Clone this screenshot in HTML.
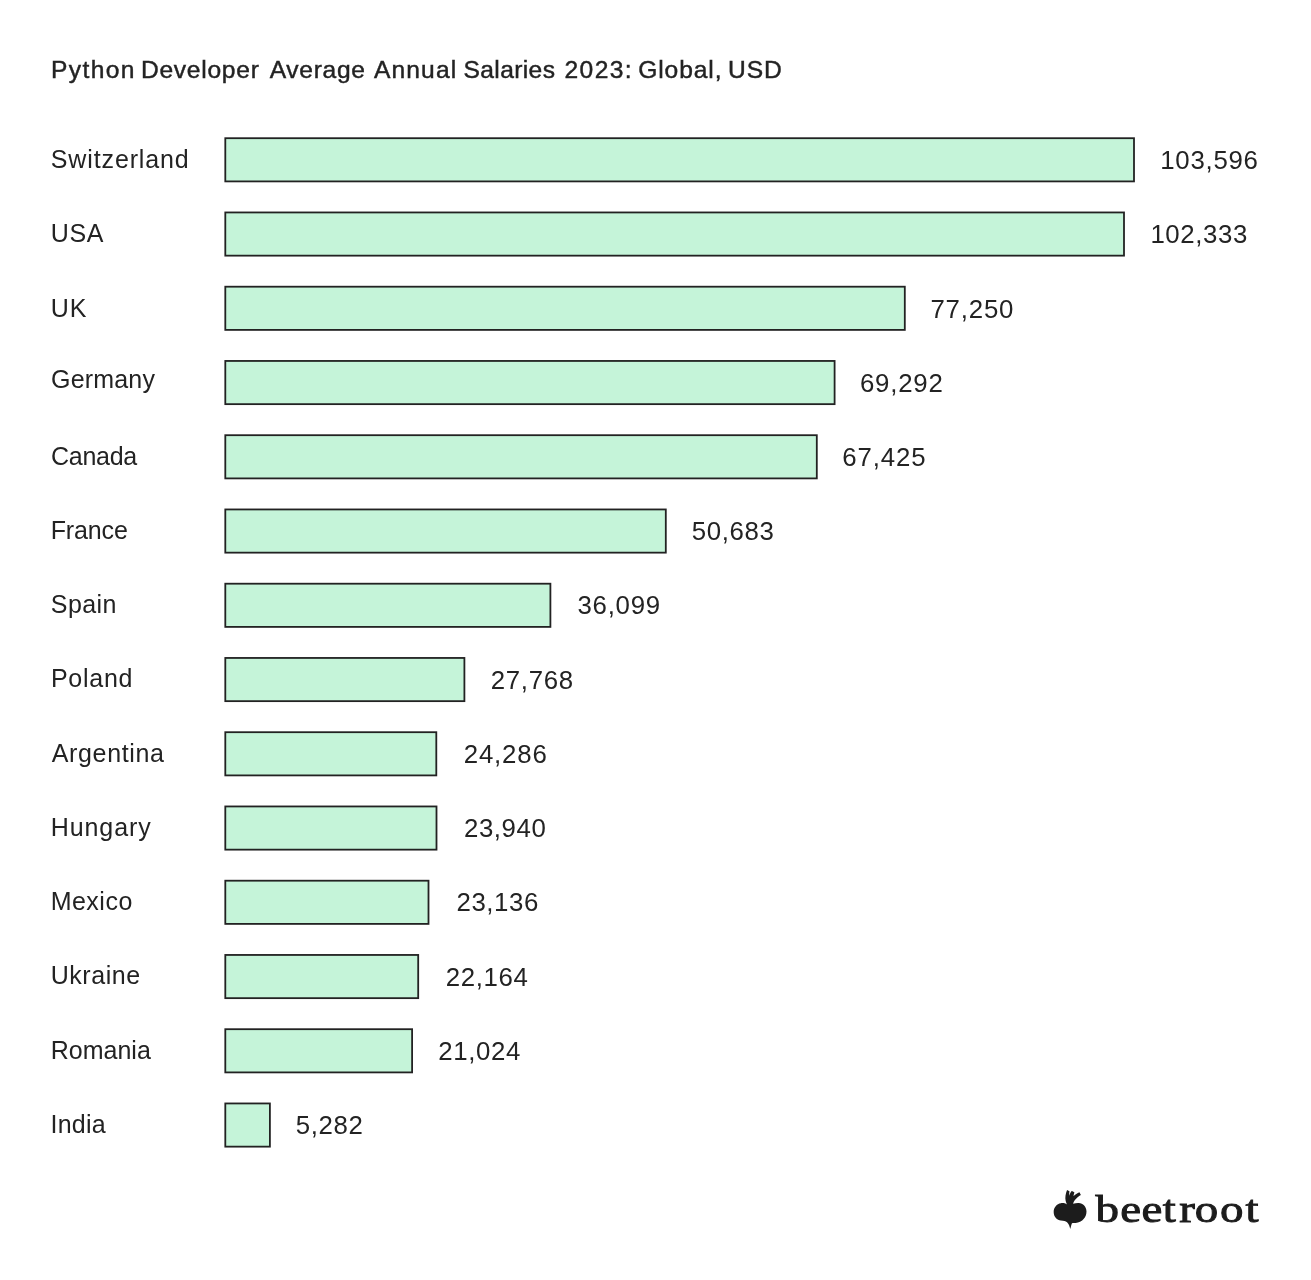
<!DOCTYPE html>
<html lang="en"><head><meta charset="utf-8"><title>Python Developer Average Annual Salaries 2023</title>
<style>
html,body{margin:0;padding:0;background:#fff;}
body{width:1311px;height:1280px;overflow:hidden;}
svg{display:block;}
text{font-family:"Liberation Sans",sans-serif;fill:#232323;}
.t{font-size:25.0px;}
.v{font-size:25.8px;}
.title{font-size:24.6px;stroke:#232323;stroke-width:0.45px;letter-spacing:0.67px;}
.bar{fill:#c5f4d9;stroke:#222222;stroke-width:1.8;}
.logo{font-family:"Liberation Serif",serif;font-size:38.5px;fill:#1c1c1c;stroke:#1c1c1c;stroke-width:0.9px;}
</style></head><body>
<svg width="1311" height="1280" viewBox="0 0 1311 1280">
<rect x="0" y="0" width="1311" height="1280" fill="#ffffff"/>
<text class="title" y="78.2"><tspan x="50.90" style="letter-spacing:1.406px">Python</tspan> <tspan x="140.90" style="letter-spacing:0.730px">Developer</tspan> <tspan x="269.70" style="letter-spacing:0.697px">Average</tspan> <tspan x="374.00" style="letter-spacing:1.118px">Annual</tspan> <tspan x="463.50" style="letter-spacing:0.373px">Salaries</tspan> <tspan x="564.60" style="letter-spacing:1.350px">2023:</tspan> <tspan x="638.20" style="letter-spacing:0.910px">Global,</tspan> <tspan x="728.00" style="letter-spacing:0.910px">USD</tspan></text>

<rect class="bar" x="225.30" y="138.20" width="908.70" height="43.20"/>
<text class="t" x="50.82" y="167.70" style="letter-spacing:0.869px">Switzerland</text>
<text class="v" x="1160.23" y="168.90" style="letter-spacing:0.749px">103,596</text>
<rect class="bar" x="225.30" y="212.45" width="898.70" height="43.20"/>
<text class="t" x="50.77" y="241.85" style="letter-spacing:0.667px">USA</text>
<text class="v" x="1150.40" y="243.15" style="letter-spacing:0.621px">102,333</text>
<rect class="bar" x="225.30" y="286.70" width="679.50" height="43.20"/>
<text class="t" x="50.77" y="317.40" style="letter-spacing:1.004px">UK</text>
<text class="v" x="930.44" y="317.70" style="letter-spacing:0.809px">77,250</text>
<rect class="bar" x="225.30" y="360.95" width="609.30" height="43.20"/>
<text class="t" x="51.12" y="387.75" style="letter-spacing:0.167px">Germany</text>
<text class="v" x="859.92" y="391.65" style="letter-spacing:0.811px">69,292</text>
<rect class="bar" x="225.30" y="435.20" width="591.50" height="43.20"/>
<text class="t" x="51.03" y="464.60" style="letter-spacing:-0.279px">Canada</text>
<text class="v" x="842.28" y="465.90" style="letter-spacing:0.864px">67,425</text>
<rect class="bar" x="225.30" y="509.45" width="440.50" height="43.20"/>
<text class="t" x="50.65" y="538.65" style="letter-spacing:-0.120px">France</text>
<text class="v" x="691.63" y="540.15" style="letter-spacing:0.687px">50,683</text>
<rect class="bar" x="225.30" y="583.70" width="325.10" height="43.20"/>
<text class="t" x="50.82" y="612.80" style="letter-spacing:0.416px">Spain</text>
<text class="v" x="577.48" y="614.40" style="letter-spacing:0.748px">36,099</text>
<rect class="bar" x="225.30" y="657.95" width="239.10" height="43.20"/>
<text class="t" x="50.90" y="686.85" style="letter-spacing:0.757px">Poland</text>
<text class="v" x="490.65" y="688.65" style="letter-spacing:0.721px">27,768</text>
<rect class="bar" x="225.30" y="732.20" width="211.00" height="43.20"/>
<text class="t" x="51.75" y="761.60" style="letter-spacing:0.650px">Argentina</text>
<text class="v" x="463.75" y="762.90" style="letter-spacing:0.818px">24,286</text>
<rect class="bar" x="225.30" y="806.45" width="211.20" height="43.20"/>
<text class="t" x="50.65" y="836.25" style="letter-spacing:0.948px">Hungary</text>
<text class="v" x="464.00" y="837.15" style="letter-spacing:0.586px">23,940</text>
<rect class="bar" x="225.30" y="880.70" width="203.20" height="43.20"/>
<text class="t" x="50.65" y="909.90" style="letter-spacing:0.493px">Mexico</text>
<text class="v" x="456.55" y="911.40" style="letter-spacing:0.562px">23,136</text>
<rect class="bar" x="225.30" y="954.95" width="192.90" height="43.20"/>
<text class="t" x="50.77" y="984.25" style="letter-spacing:0.522px">Ukraine</text>
<text class="v" x="445.85" y="985.65" style="letter-spacing:0.602px">22,164</text>
<rect class="bar" x="225.30" y="1029.20" width="186.80" height="43.20"/>
<text class="t" x="50.65" y="1058.90" style="letter-spacing:0.026px">Romania</text>
<text class="v" x="438.30" y="1059.90" style="letter-spacing:0.605px">21,024</text>
<rect class="bar" x="225.30" y="1103.45" width="44.60" height="43.20"/>
<text class="t" x="50.55" y="1132.65" style="letter-spacing:0.219px">India</text>
<text class="v" x="295.65" y="1134.15" style="letter-spacing:0.677px">5,282</text>
<g transform="translate(1045 1180) scale(0.046875)" fill="#1c1c1c">
<path d="M470 525 C430 495 380 490 340 495 C250 505 185 590 185 680 C185 790 260 850 340 865 C400 875 440 875 470 900 C510 935 525 990 540 1045 C555 990 560 950 575 920 C600 915 640 918 680 910 C790 890 885 800 885 670 C885 570 810 490 720 490 C680 488 640 495 600 505 C615 440 690 365 765 322 L735 262 C690 280 640 310 608 345 C612 310 620 285 628 268 L590 238 L560 240 C540 270 525 300 520 335 C515 300 515 270 522 240 L470 215 C440 290 425 380 440 440 C450 480 462 505 470 525 Z"/>
</g>
<g transform="scale(1.22 1)"><text class="logo" x="897.87 918.28 935.74 953.11 966.56 979.26 1000.08 1020.98" y="1222.4">beetroot</text></g>

</svg>
</body></html>
